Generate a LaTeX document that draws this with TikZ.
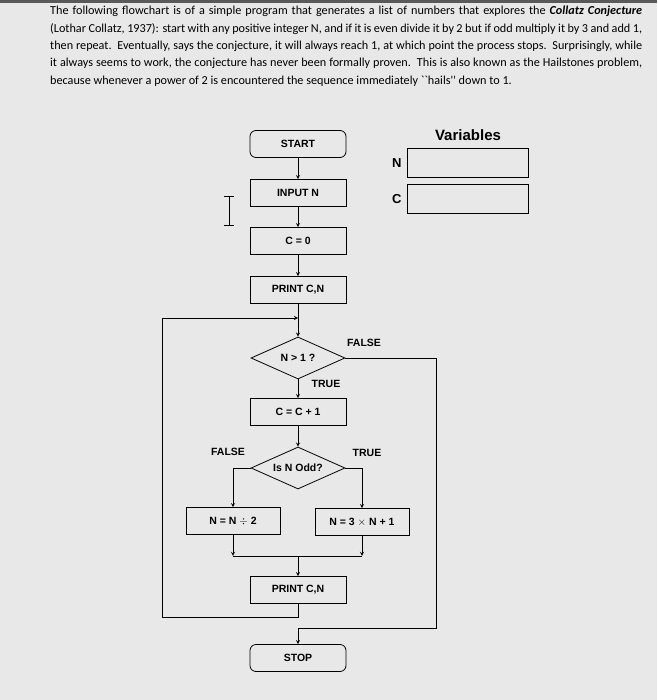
\documentclass[tikz,border=0pt]{standalone}
\usepackage{fontspec}
\setmainfont{Liberation Sans}
\newfontfamily\bodyfont{Carlito}
\usepackage{amssymb, amsmath}
\usetikzlibrary{shapes.geometric, arrows}
\tikzstyle{arrow} = [thick,->,>=stealth]
\tikzstyle{proc} = [draw, thick, minimum width=96pt, minimum height=27pt, font=\fontsize{10.5}{12}\selectfont\bfseries]
\tikzstyle{term} = [proc, rounded corners=6pt]
\tikzstyle{choice} = [draw, thick, diamond, aspect=2.3, minimum width=94pt, minimum height=42pt, inner sep=0pt, font=\fontsize{10.5}{12}\selectfont\bfseries]
\tikzstyle{lbl} = [font=\fontsize{10.5}{12}\selectfont\bfseries]

\begin{document}
\begin{tikzpicture}[x=1pt,y=-1pt]
\fill[gray!18] (0,0) rectangle (657,700);
\fill[gray!70!black] (0,0) rectangle (657,3);
\useasboundingbox (0,0) rectangle (657,700);

\node[anchor=north west, text width=592pt, align=justify, inner sep=0pt,
  font=\bodyfont\fontsize{12.2}{17.4}\selectfont] (intro) at (50,6) {The following flowchart is of a simple program that generates a list of numbers that explores the \textbf{\textit{Collatz Conjecture}} (Lothar Collatz, 1937): start with any positive integer N, and if it is even divide it by 2 but if odd multiply it by 3 and add 1, then repeat.\ \ Eventually, says the conjecture, it will always reach 1, at which point the process stops.\ \ Surprisingly, while it always seems to work, the conjecture has never been formally proven.\ \ This is also known as the Hailstones problem, because whenever a power of 2 is encountered the sequence immediately ``hails'' down to 1.};

\node[term] (start) at (298,144) {START};
\node[proc] (input) at (298,193) {INPUT N};
\node[proc] (czero) at (298,241) {C = 0};
\node[proc] (print1) at (298,290) {PRINT C,N};
\coordinate (join) at (298,318);
\node[choice] (test) at (298,358) {N > 1 ?};
\node[proc] (count) at (298,412) {C = C + 1};
\node[choice] (odd) at (298,468) {Is N Odd?};
\node[proc, minimum width=94pt] (half) at (233,521) {N = N $\div$ 2};
\node[proc, minimum width=94pt] (triple) at (362,522) {N = 3 $\times$ N + 1};
\coordinate (merge) at (298,556);
\node[proc] (print2) at (298,590) {PRINT C,N};
\node[term] (stop) at (298,658) {STOP};

\node[lbl] at (364,343) {FALSE};
\node[lbl] at (326,384) {TRUE};
\node[lbl] at (228,452) {FALSE};
\node[lbl] at (367,453) {TRUE};

% variables
\node[font=\fontsize{15}{17}\selectfont\bfseries] (vars) at (468,135) {Variables};
\node[draw, thick, minimum width=121pt, minimum height=29pt] (nbox) at (468,163) {};
\node[draw, thick, minimum width=121pt, minimum height=29pt] (cbox) at (468,199) {};
\node[lbl, font=\fontsize{13}{15}\selectfont\bfseries, left=2pt] at (nbox.west) {N};
\node[lbl, font=\fontsize{13}{15}\selectfont\bfseries, left=2pt] at (cbox.west) {C};

% text cursor
\draw (229,196) -- (229,225) (224,196) -- (234,196) (224,225) -- (234,225);

\draw[arrow] (start) -- (input);
\draw[arrow] (input) -- (czero);
\draw[arrow] (czero) -- (print1);
\draw[arrow] (print1) -- (test);
\draw[arrow] (test) -- (count);
\draw[arrow] (count) -- (odd);
\draw[arrow] (odd.west) -| (half.north);
\draw[arrow] (odd.east) -| (triple.north);
\draw[arrow] (half.south) -- ++(0,21);
\draw[arrow] (triple.south) -- ++(0,20);
\draw[thick] (half.south |- merge) -- (triple.south |- merge);
\draw[arrow] (merge) -- (print2);
\draw[arrow] (print2.south) -- ++(0,13) -| (162,318) -- (join);
\draw[arrow] (test.east) -| (436,628) -| (stop.north);
\end{tikzpicture}
\end{document}
